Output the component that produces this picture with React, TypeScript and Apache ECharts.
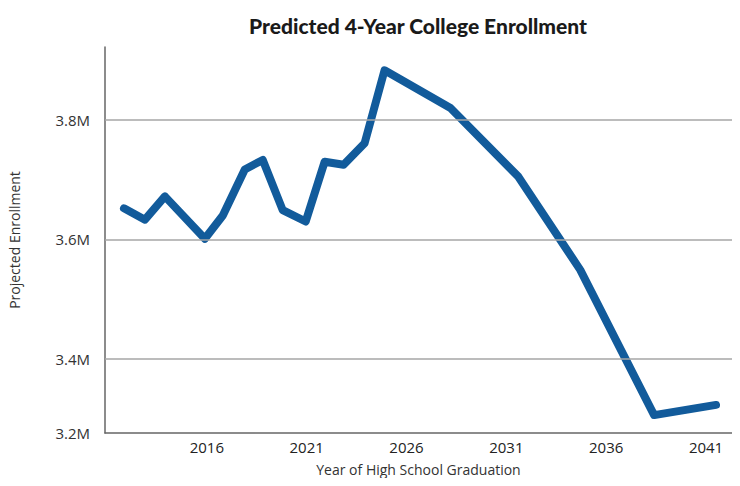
import { useEffect, useRef } from 'react';
import * as echarts from 'echarts';

// x positions, y in millions
const years = [
    2011.85, 2012.9, 2013.9, 2015.9, 2016.8, 2017.9, 2018.8, 2019.8, 2020.95,
    2021.9, 2022.85, 2023.9, 2024.9, 2028.2, 2031.6, 2034.7, 2038.4, 2041.5
];
const enrollment = [
    3.652, 3.633, 3.672, 3.601, 3.64, 3.717, 3.733, 3.649, 3.63,
    3.73, 3.725, 3.761, 3.883, 3.82, 3.705, 3.549, 3.306, 3.323
];
const yearTicks = [2016, 2021, 2026, 2031, 2036, 2041];
const enrollmentTicks = [3.4, 3.6, 3.8];

const labelFont = '"Open Sans", "Noto Sans", sans-serif';

const App = () => {
    const chartRef = useRef<HTMLDivElement>(null);

    useEffect(() => {
        if (!chartRef.current) return;
        const chart = echarts.init(chartRef.current, null, { renderer: 'svg' });

        const yMin = 3.276;
        const yMax = 3.922;

        chart.setOption({
            animation: false,
            backgroundColor: '#ffffff',
            title: {
                text: 'Predicted 4-Year College Enrollment',
                left: 413,
                top: 10,
                textAlign: 'center',
                textStyle: {
                    fontFamily: 'Lato, sans-serif',
                    fontWeight: 900,
                    fontSize: 21,
                    color: '#1a1a1a'
                }
            },
            grid: { left: 105, right: 8, top: 47, bottom: 53, outerBoundsMode: 'none' },
            xAxis: {
                type: 'value',
                min: 2010.9,
                max: 2042.3,
                name: 'Year of High School Graduation',
                nameLocation: 'middle',
                nameGap: 29,
                nameTextStyle: { fontFamily: labelFont, fontSize: 14, color: '#333' },
                axisLine: { show: true, lineStyle: { color: '#666', width: 1.5 } },
                axisTick: { show: false },
                splitLine: { show: false },
                axisLabel: {
                    customValues: yearTicks,
                    formatter: (v: number) => String(v),
                    fontFamily: labelFont,
                    fontSize: 15,
                    color: '#222',
                    margin: 6
                }
            },
            yAxis: {
                type: 'value',
                min: yMin,
                max: yMax,
                name: 'Projected Enrollment',
                nameLocation: 'middle',
                nameGap: 84,
                nameTextStyle: { fontFamily: labelFont, fontSize: 14, color: '#333' },
                axisLine: { show: true, lineStyle: { color: '#666', width: 1.5 } },
                axisTick: { show: false },
                axisLabel: {
                    customValues: [yMin, ...enrollmentTicks],
                    formatter: (v: number) => (v < 3.3 ? '3.2M' : v.toFixed(1) + 'M'),
                    fontFamily: labelFont,
                    fontSize: 15,
                    color: '#333',
                    margin: 15
                },
                splitLine: { show: false }
            },
            series: [
                {
                    type: 'line',
                    data: years.map((y, i) => [y, enrollment[i]]),
                    symbol: 'none',
                    lineStyle: { color: '#125b9b', width: 8, cap: 'round', join: 'round' },
                    markLine: {
                        silent: true,
                        symbol: 'none',
                        label: { show: false },
                        lineStyle: { color: '#a6a6a6', width: 1.5, type: 'solid' },
                        data: enrollmentTicks.map(v => ({ yAxis: v }))
                    },
                    z: 3
                }
            ]
        });

        return () => {
            chart.dispose();
        };
    }, []);

    return <div ref={chartRef} style={{ width: 740, height: 486, margin: -8 }} />;
};

export default App;
